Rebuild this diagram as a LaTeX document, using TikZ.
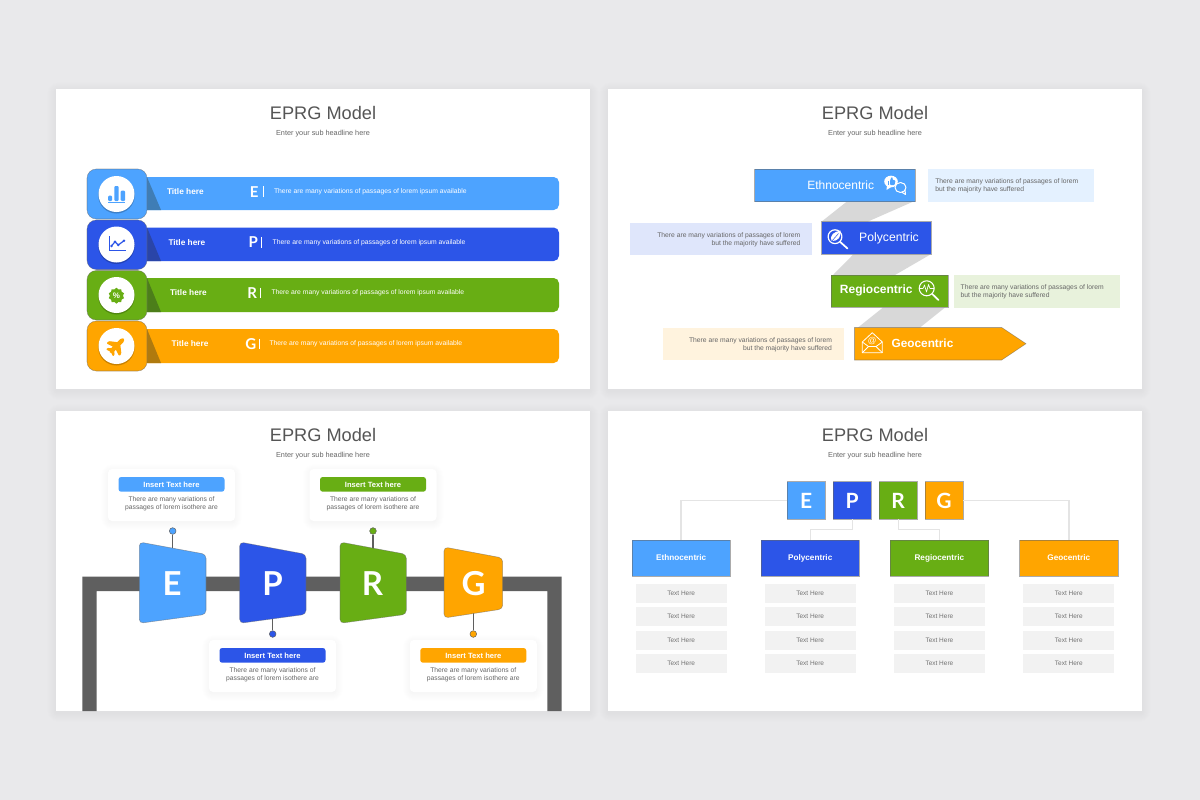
\documentclass[tikz,border=0pt]{standalone}
\usepackage{fontspec}
\setmainfont{Liberation Sans}
\newfontfamily\letterfont{Lato}[BoldFont={Lato Bold}]
\usetikzlibrary{shapes.geometric}
\definecolor{cE}{HTML}{4DA3FF}
\definecolor{cP}{HTML}{2C55E8}
\definecolor{cR}{HTML}{68AE14}
\definecolor{cG}{HTML}{FFA500}
\definecolor{fE}{HTML}{3F7DB5}
\definecolor{fP}{HTML}{2A45A8}
\definecolor{fR}{HTML}{4C7E1A}
\definecolor{fG}{HTML}{B07A0E}
\definecolor{lE}{HTML}{E4F1FF}
\definecolor{lP}{HTML}{DFE6FB}
\definecolor{lR}{HTML}{E8F2DC}
\definecolor{lG}{HTML}{FFF3DE}
\definecolor{page}{HTML}{E9E9EB}
\definecolor{frame}{HTML}{5F5F5F}
\definecolor{ink}{HTML}{555555}
\definecolor{soft}{HTML}{666666}
\definecolor{rowbg}{HTML}{F2F2F2}
\definecolor{wire}{HTML}{E4E4E4}
\definecolor{band}{HTML}{D8D8D8}
\newcommand\fz[2]{\fontsize{\fpeval{#1*.75}pt}{\fpeval{#2*.75}pt}\selectfont}
\newcommand\softshadow[4]{\foreach \s in {1,...,9}{\fill[black,fill opacity=.005,rounded corners=\s] (#1-\s,#2-\s+2) rectangle (#3+\s,#4+\s+2);}}
\tikzset{
 txt/.style={inner sep=0,outer sep=0,align=center},
 headline/.style={txt,text=ink,font=\fz{18.2}{22}},
 subline/.style={txt,text=soft,font=\fz{7.3}{9}},
 edge/.style={draw=black!60,draw opacity=.55,line width=.4pt},
 bodytext/.style={txt,text=soft,font=\fz{6.75}{8.2}},
 whitebold/.style={txt,text=white,font=\bfseries\fz{8.3}{10}},
 stepbox/.style={inner sep=0,outer sep=0,edge,minimum height=24.4pt},
 square/.style={inner sep=0,outer sep=0,edge,minimum width=28.2pt,minimum height=28.2pt,text=white,font=\letterfont\bfseries\fz{21}{22}},
 header/.style={inner sep=0,outer sep=0,edge,minimum width=73.7pt,minimum height=27pt,text=white,font=\bfseries\fz{8.2}{10}},
 rowbox/.style={inner sep=0,outer sep=0,fill=rowbg,minimum width=68.25pt,minimum height=14.25pt,text=black!55,font=\fz{6.5}{8}},
 wirethin/.style={draw=wire,line width=.75pt},
 wirethick/.style={draw=wire,line width=1.1pt},
 pinline/.style={draw=frame,line width=1pt},
 icon/.style={draw=white,line width=.75pt,line cap=round,line join=round},
}
\begin{document}
\begin{tikzpicture}[x=.75pt,y=-.75pt]
\useasboundingbox (0,0) rectangle (1200,800);
\fill[page] (0,0) rectangle (1200,800);
% panels
\foreach \x/\y in {56/89,608/89,56/411,608/411}{
  \softshadow{\x}{\y}{\x+534}{\y+300}
  \fill[white] (\x,\y) rectangle (\x+534,\y+300);
}
\foreach \k/\cx/\cy in {a/323/89,b/875/89,c/323/411,d/875/411}{
  \node[headline] (head\k) at (\cx,\cy+24) {EPRG Model};
  \node[subline] (sub\k) at (\cx,\cy+44.3) {Enter your sub headline here};
}
% ---------- panel 1
\foreach \k/\ty/\tz/\by/\bz/\cy/\my/\tx/\lx/\sx/\dx in {
  E/169/219/177/210/194/191.7/167/254.3/263.3/274,
  P/220/269.5/227.5/261/244.5/242.5/168.5/253.3/261.7/272.7,
  R/270.5/320/278/312/295/293/170/252.3/260.7/271.5,
  G/321/371/329/363/346/344/171.7/250.7/259/269.5}{
  \fill[c\k,rounded corners=4] (138,\by) rectangle (559,\bz);
  \fill[f\k] (147,\by) -- (161,\bz) -- (147,\bz) -- cycle;
  \draw[edge,fill=c\k,rounded corners=7] (87,\ty) rectangle (147,\tz);
  \fill[black,fill opacity=.22] (116.5,\cy+1.2) circle (18.3);
  \fill[white] (116.5,\cy) circle (18);
  \node[whitebold,anchor=west] (title\k) at (\tx,\my) {Title here};
  \node[txt,text=white,font=\letterfont\bfseries\fz{15}{16}] (letter\k) at (\lx,\my) {\k};
  \draw[white,line width=.75pt] (\sx,\my-5.5) -- (\sx,\my+5);
  \node[txt,text=white,anchor=west,font=\fz{6.8}{8}] (desc\k) at (\dx,\my) {There are many variations of passages of lorem ipsum available};
}
% bar chart icon
\fill[cE,rounded corners=.8] (108,195.7) rectangle (112.2,201);
\fill[cE,rounded corners=.8] (114.3,186) rectangle (118.6,201);
\fill[cE,rounded corners=.8] (120.7,190.7) rectangle (125.1,201);
\draw[cE,line width=.6pt] (108,202.5) -- (125.2,202.5);
% line chart icon
\draw[cP,line width=.6pt] (109,236) -- (109,250.5) -- (125.7,250.5);
\draw[cP,line width=.9pt,line join=round] (111.5,246) -- (115,241.7) -- (118.3,245) -- (124,240.7);
\foreach \p in {(111.5,246),(115,241.7),(118.3,245),(124,240.7)}{\fill[cP] \p circle (1.4);}
% badge icon
\node[star,star points=10,star point ratio=1.22,fill=cR,inner sep=0,outer sep=0,minimum size=12pt,text=white,font=\bfseries\fz{8}{8}] (badge) at (116.4,295.7) {\%};
% plane icon
\begin{scope}[shift={(116.5,346)},rotate=-45,scale=.82]
  \fill[cG,rounded corners=2] (-2.6,-12.5) rectangle (2.6,11);
  \fill[cG,rounded corners=.8] (-2,-4.5) -- (-11,2.5) -- (-11,6.5) -- (-2,3.5) -- (2,3.5) -- (11,6.5) -- (11,2.5) -- (2,-4.5) -- cycle;
  \fill[cG,rounded corners=.6] (-2,6) -- (-6,9.2) -- (-6,12) -- (0,10) -- (6,12) -- (6,9.2) -- (2,6) -- cycle;
\end{scope}
% ---------- panel 2
\fill[band] (821.7,221.5) -- (846.7,201.7) -- (913,201.7) -- (868,221.5) -- cycle;
\fill[band] (833,275) -- (853,254.7) -- (930,254.7) -- (895,275) -- cycle;
\fill[band] (858,327.5) -- (883,307.5) -- (945,307.5) -- (920,327.5) -- cycle;
\node[stepbox,fill=cE,minimum width=120.4pt] (ethno) at (834.8,185.3) {};
\node[txt,text=white,font=\fz{12}{14}] (ethnoT) at (840.7,185.3) {Ethnocentric};
\node[stepbox,fill=cP,minimum width=82pt] (poly) at (876.3,238) {};
\node[txt,text=white,font=\fz{12.2}{14}] (polyT) at (889,238.3) {Polycentric};
\node[stepbox,fill=cR,minimum width=87.4pt] (regio) at (889.7,291.2) {};
\node[txt,text=white,font=\bfseries\fz{12}{14}] (regioT) at (876.3,290) {Regiocentric};
\draw[edge,fill=cG] (854.5,327.5) -- (1001.7,327.5) -- (1026,343.7) -- (1001.7,360) -- (854.5,360) -- cycle;
\node[txt,text=white,font=\bfseries\fz{11.8}{14}] (geoT) at (922.5,343) {Geocentric};
\foreach \k/\a/\b/\y/\z/\al/\tx/\an in {
  E/928/1094/169/201.5/left/935.3/west,
  P/630/812/222.5/255/right/800.3/east,
  R/953.5/1119.5/275/307.5/left/960.7/west,
  G/662.5/843.5/327.5/360/right/832/east}{
  \fill[l\k] (\a,\y) rectangle (\b,\z);
  \node[bodytext,align=\al,anchor=\an] (note\k) at (\tx,\y+17) {There are many variations of passages of lorem\\but the majority have suffered};
}
% bubble icon
\fill[white] (891,181.5) ellipse (6.8 and 5.8);
\fill[white] (887,185) -- (886.5,190) -- (892,186.5) -- cycle;
\fill[cE] (887.8,180.5) rectangle (889.3,185);
\fill[cE,rounded corners=.6] (890,180.5) -- (891.8,176.8) -- (892.8,178) -- (892.6,180) -- (895.5,180.4) -- (894.6,185) -- (890,185) -- cycle;
\draw[icon,fill=cE] (900.5,187.5) ellipse (5.5 and 5);
\draw[icon] (902,192.3) -- (905.5,194.5) -- (905,190);
% leaf search icon
\draw[icon,line width=.9pt] (835,236.7) circle (6.9);
\draw[icon,line width=1.3pt] (840,241.8) -- (847.5,248.5);
\fill[white] (831.7,241) .. controls (829.5,234.5) and (834,232) .. (840.5,230.5) .. controls (841.5,236.5) and (838,241.5) .. (831.7,241) -- cycle;
\draw[cP,line width=.4pt] (831.5,241.5) -- (838.5,233.5);
% pulse search icon
\draw[icon,line width=.8pt] (926.7,288.3) circle (7.5);
\draw[icon,line width=1.3pt] (932.2,294) -- (938.5,300);
\draw[icon,line width=.5pt] (919.5,288.5) -- (923,288.5) -- (924.5,285) -- (926.5,292) -- (928.5,284.5) -- (930,288.5) -- (934,288.5);
% envelope icon
\draw[icon,line width=.6pt] (862.3,342) -- (872.3,332.7) -- (882.3,342) -- (882.3,352.7) -- (862.3,352.7) -- cycle;
\draw[icon,line width=.6pt] (862.3,342) -- (868.5,346.5) -- (876,346.5) -- (882.3,342);
\draw[icon,line width=.6pt] (862.3,352.7) -- (868.5,346.5) (882.3,352.7) -- (876,346.5);
\node[txt,text=white,font=\fz{8.5}{9}] (envat) at (872.3,340.8) {@};
% ---------- panel 3
\fill[frame] (82.3,711) -- (82.3,576.5) -- (561.7,576.5) -- (561.7,711) -- (547.3,711) -- (547.3,591) -- (96.7,591) -- (96.7,711) -- cycle;
\foreach \k/\cx/\py/\ay in {E/172.7/531/552,P/272.7/634/614,R/373/531/552,G/473.3/634/612}{
  \node[circle,fill=c\k,draw=frame,line width=.35pt,inner sep=0,minimum size=5pt] (pin\k) at (\cx,\py) {};
  \coordinate (hook\k) at (\cx,\ay);
  \draw[pinline] (pin\k) -- (hook\k);
}
\foreach \k/\l/\r/\a/\b/\c/\d/\lx in {
  E/139.3/206/542/554.3/614.3/623.3/172,
  P/239.7/306/542/554.3/614.3/623.3/272.5,
  R/340/406.3/542/554.3/614.3/623.3/372.5,
  G/444/502.7/547/558/609/618/473.5}{
  \draw[edge,fill=c\k,rounded corners=3] (\l,\a) -- (\r,\b) -- (\r,\c) -- (\l,\d) -- cycle;
  \node[txt,text=white,font=\letterfont\bfseries\fz{33}{33}] (big\k) at (\lx,583.5) {\k};
}
\foreach \k/\x/\y in {E/171.5/469,P/272.5/640,R/373/469,G/473.3/640}{
  \softshadow{\x-63.5+2}{\y+2}{\x+63.5-2}{\y+50}
  \fill[white,rounded corners=3] (\x-63.5,\y) rectangle (\x+63.5,\y+52);
  \fill[c\k,rounded corners=2] (\x-53,\y+8) rectangle (\x+53,\y+22.7);
  \node[txt,text=white,font=\bfseries\fz{7.6}{9}] (pill\k) at (\x,\y+15.3) {Insert Text here};
  \node[bodytext] (call\k) at (\x,\y+34.5) {There are many variations of\\passages of lorem isothere are};
}
% ---------- panel 4
\foreach \k/\x in {E/806.2,P/852.2,R/898,G/944}{
  \node[square,fill=c\k] (sq\k) at (\x,500.5) {\k};
}
\foreach \k/\x/\name in {E/681.2/Ethnocentric,P/810.2/Polycentric,R/939.4/Regiocentric,G/1068.8/Geocentric}{
  \node[header,fill=c\k] (hd\k) at (\x,558) {\name};
  \foreach \i/\y in {1/593.5,2/616.7,3/640,4/663.5}{
    \node[rowbox] (row\k\i) at (\x,\y) {Text Here};
  }
}
\draw[wirethick] (sqE.west) -| (hdE.north);
\draw[wirethick] (sqG.east) -| (hdG.north);
\draw[wirethin] (sqP.south) -- ++(0,10.3) -| (hdP.north);
\draw[wirethin] (sqR.south) -- ++(0,10.3) -| (hdR.north);
\end{tikzpicture}
\end{document}
